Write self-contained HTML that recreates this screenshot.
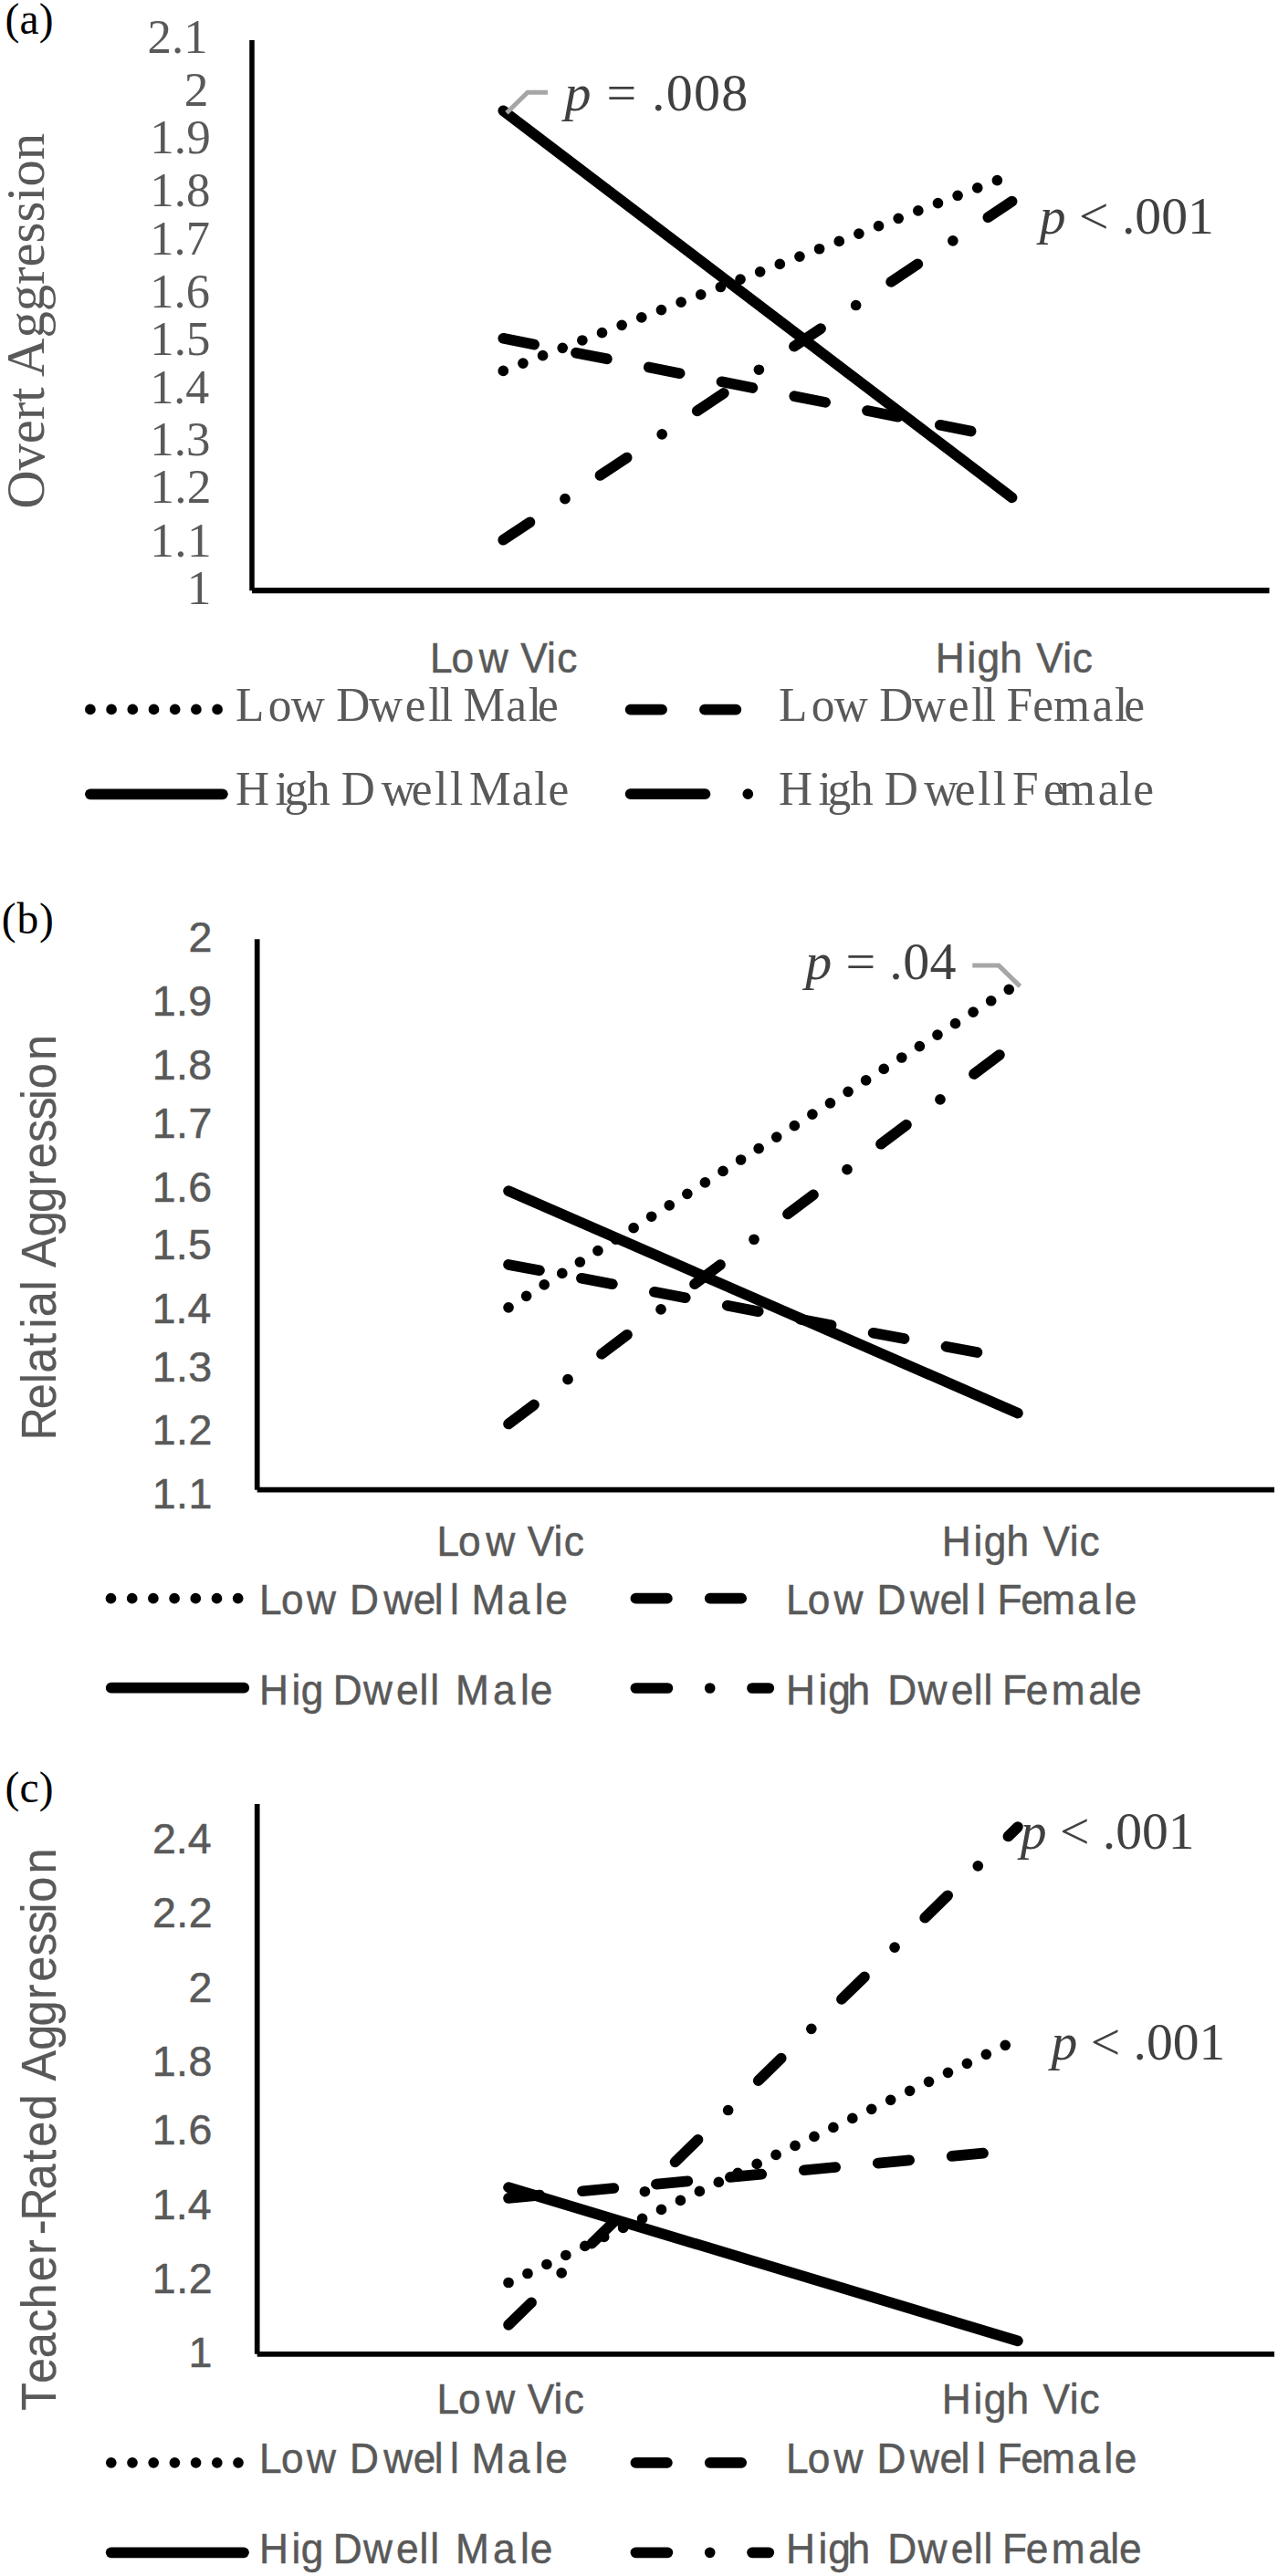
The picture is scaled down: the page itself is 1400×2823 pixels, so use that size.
<!DOCTYPE html>
<html lang="en"><head><meta charset="utf-8"><title>Figure</title>
<style>
html,body{margin:0;padding:0;background:#fff;}
svg{display:block;}
text{white-space:pre;}
</style></head><body>
<svg width="1400" height="2823" viewBox="0 0 1400 2823">
<rect x="0" y="0" width="1400" height="2823" fill="#ffffff"/>
<text transform="translate(7.4,36.9)" x="-2" y="0" font-family="'Liberation Serif', serif" font-size="47.5" fill="#000" letter-spacing="0.250" xml:space="preserve">(a)</text>
<text transform="translate(47.8,555.4) rotate(-90) scale(0.9774,1)" x="-2.5" y="0" font-family="'Liberation Serif', serif" font-size="60" fill="#595959" xml:space="preserve">Overt Aggression</text>
<text transform="translate(163.8,58) scale(0.9878,1)" x="-2.25" y="0" font-family="'Liberation Serif', serif" font-size="53.4" fill="#595959" xml:space="preserve">2.1</text>
<text transform="translate(204,115.5)" x="-2.25" y="0" font-family="'Liberation Serif', serif" font-size="53.4" fill="#595959" xml:space="preserve">2</text>
<text transform="translate(169,168) scale(0.9958,1)" x="-4.75" y="0" font-family="'Liberation Serif', serif" font-size="53.4" fill="#595959" xml:space="preserve">1.9</text>
<text transform="translate(169,225.75) scale(0.9917,1)" x="-4.75" y="0" font-family="'Liberation Serif', serif" font-size="53.4" fill="#595959" xml:space="preserve">1.8</text>
<text transform="translate(169,278.9) scale(0.9835,1)" x="-4.75" y="0" font-family="'Liberation Serif', serif" font-size="53.4" fill="#595959" xml:space="preserve">1.7</text>
<text transform="translate(169,337.4) scale(0.9835,1)" x="-4.75" y="0" font-family="'Liberation Serif', serif" font-size="53.4" fill="#595959" xml:space="preserve">1.6</text>
<text transform="translate(169,389.4) scale(0.9917,1)" x="-4.75" y="0" font-family="'Liberation Serif', serif" font-size="53.4" fill="#595959" xml:space="preserve">1.5</text>
<text transform="translate(169,441.5) scale(0.9714,1)" x="-4.75" y="0" font-family="'Liberation Serif', serif" font-size="53.4" fill="#595959" xml:space="preserve">1.4</text>
<text transform="translate(169,499.3) scale(0.9917,1)" x="-4.75" y="0" font-family="'Liberation Serif', serif" font-size="53.4" fill="#595959" xml:space="preserve">1.3</text>
<text transform="translate(169,551.4)" x="-4.75" y="0" font-family="'Liberation Serif', serif" font-size="53.4" fill="#595959" letter-spacing="0.250" xml:space="preserve">1.2</text>
<text transform="translate(169,609.8)" x="-4.75" y="0" font-family="'Liberation Serif', serif" font-size="53.4" fill="#595959" letter-spacing="0.375" xml:space="preserve">1.1</text>
<text transform="translate(209.5,661.5)" x="-4.75" y="0" font-family="'Liberation Serif', serif" font-size="53.4" fill="#595959" xml:space="preserve">1</text>
<line x1="276" y1="44" x2="276" y2="647.2" stroke="#000" stroke-width="5.5" stroke-linecap="butt"/>
<line x1="276" y1="647.2" x2="1390.5" y2="647.2" stroke="#000" stroke-width="6.3" stroke-linecap="butt"/>
<line x1="551.3" y1="406.4" x2="1108.6" y2="191.3" stroke="#000" stroke-width="11.7" stroke-linecap="round" stroke-dasharray="0 23.2"/>
<line x1="551.3" y1="370.8" x2="1108.6" y2="481.5" stroke="#000" stroke-width="11.7" stroke-linecap="round" stroke-dasharray="34.5 46.8"/>
<line x1="551.3" y1="591.7" x2="1108.6" y2="220.7" stroke="#000" stroke-width="11.7" stroke-linecap="round" stroke-dasharray="35 46.3 0 46.3"/>
<line x1="551.3" y1="121.3" x2="1108.6" y2="545.3" stroke="#000" stroke-width="11.7" stroke-linecap="round"/>
<polyline points="555,123.75 578,101.25 600,101.25" fill="none" stroke="#a6a6a6" stroke-width="5" stroke-linecap="butt" stroke-linejoin="miter"/>
<text transform="translate(615,121.25)" x="3.5" y="0" font-family="'Liberation Serif', serif" font-size="58" fill="#404040" letter-spacing="1.214" xml:space="preserve"><tspan font-style="italic">p</tspan><tspan font-style="normal"> = .008</tspan></text>
<text transform="translate(1135.2,255.5) scale(0.9951,1)" x="3.5" y="0" font-family="'Liberation Serif', serif" font-size="58" fill="#404040" xml:space="preserve"><tspan font-style="italic">p</tspan><tspan font-style="normal"> &lt; .001</tspan></text>
<text transform="translate(0,736.5) scale(0.9500,1)" x="495.71 520.61 552.44 586.09 600.27 630.52 642.28" y="0" font-family="'Liberation Sans', sans-serif" font-size="46.6" fill="#595959" stroke="#595959" stroke-width="0.5" xml:space="preserve">Low Vic</text>
<text transform="translate(0,736.5) scale(0.9500,1)" x="1078.65 1115.36 1126.94 1152.82 1178.74 1194.9 1225.46 1236.49" y="0" font-family="'Liberation Sans', sans-serif" font-size="46.6" fill="#595959" stroke="#595959" stroke-width="0.5" xml:space="preserve">High Vic</text>
<line x1="98.9" y1="777.4" x2="244" y2="777.4" stroke="#000" stroke-width="11.7" stroke-linecap="round" stroke-dasharray="0 23.2"/>
<line x1="98.9" y1="870.3" x2="243.9" y2="870.3" stroke="#000" stroke-width="11.7" stroke-linecap="round"/>
<line x1="690.6" y1="777.6" x2="836" y2="777.6" stroke="#000" stroke-width="11.7" stroke-linecap="round" stroke-dasharray="34.5 46.8"/>
<line x1="690.6" y1="870.2" x2="836" y2="870.2" stroke="#000" stroke-width="11.7" stroke-linecap="round" stroke-dasharray="81.9 46.8 0 46.8"/>
<text transform="translate(0,789.5) scale(0.9600,1)" x="268.77 305.88 332.03 370.67 383.56 420.78 462.29 488.82 501.85 516.71 528.77 577.29 602.89 613.64" y="0" font-family="'Liberation Serif', serif" font-size="53.5" fill="#595959" xml:space="preserve">Low Dwell Male</text>
<text transform="translate(0,881.5) scale(0.9600,1)" x="268.77 314.09 324.58 349.89 376.64 389.29 435.05 469.58 496.12 513.62 528.48 535.33 584.06 609.66 625.62" y="0" font-family="'Liberation Serif', serif" font-size="53.5" fill="#595959" xml:space="preserve">High Dwell Male</text>
<text transform="translate(0,789.5) scale(0.9600,1)" x="888.56 925.67 951.93 990.56 1003.35 1040.57 1082.08 1108.62 1121.74 1136.61 1148.56 1178.33 1202.11 1246.35 1271.85 1282.6" y="0" font-family="'Liberation Serif', serif" font-size="53.5" fill="#595959" xml:space="preserve">Low Dwell Female</text>
<text transform="translate(0,881.5) scale(0.9600,1)" x="888.56 933.88 944.37 969.69 996.44 1009.08 1054.43 1089.37 1115.91 1133.41 1148.27 1155.33 1190.72 1208.36 1252.81 1277.16 1293.01" y="0" font-family="'Liberation Serif', serif" font-size="53.5" fill="#595959" xml:space="preserve">High Dwell Female</text>
<text transform="translate(3.75,1023.2)" x="-2" y="0" font-family="'Liberation Serif', serif" font-size="47.5" fill="#000" letter-spacing="0.825" xml:space="preserve">(b)</text>
<text transform="translate(60.6,0) rotate(-90) scale(0.9500,1)" x="-1661.7 -1625.56 -1596.01 -1583.94 -1552.71 -1532.3 -1519.21 -1488.95 -1477.13 -1462.07 -1426.48 -1398.97 -1367.95 -1347.63 -1317.87 -1292.22 -1268.65 -1256.02 -1223.11" y="0" font-family="'Liberation Sans', sans-serif" font-size="53.2" fill="#595959" stroke="#595959" stroke-width="0.2" xml:space="preserve">Relatial Aggression</text>
<text transform="translate(208.6,1043.4)" x="-2" y="0" font-family="'Liberation Sans', sans-serif" font-size="46.6" fill="#595959" stroke="#595959" stroke-width="0.5" xml:space="preserve">2</text>
<text transform="translate(170,1113.1)" x="-3.25" y="0" font-family="'Liberation Sans', sans-serif" font-size="46.6" fill="#595959" stroke="#595959" stroke-width="0.5" letter-spacing="0.275" xml:space="preserve">1.9</text>
<text transform="translate(170,1182.7)" x="-3.25" y="0" font-family="'Liberation Sans', sans-serif" font-size="46.6" fill="#595959" stroke="#595959" stroke-width="0.5" letter-spacing="0.275" xml:space="preserve">1.8</text>
<text transform="translate(170,1246.9)" x="-3.25" y="0" font-family="'Liberation Sans', sans-serif" font-size="46.6" fill="#595959" stroke="#595959" stroke-width="0.5" letter-spacing="0.400" xml:space="preserve">1.7</text>
<text transform="translate(170,1316.9)" x="-3.25" y="0" font-family="'Liberation Sans', sans-serif" font-size="46.6" fill="#595959" stroke="#595959" stroke-width="0.5" letter-spacing="0.275" xml:space="preserve">1.6</text>
<text transform="translate(170,1380.3)" x="-3.25" y="0" font-family="'Liberation Sans', sans-serif" font-size="46.6" fill="#595959" stroke="#595959" stroke-width="0.5" letter-spacing="0.150" xml:space="preserve">1.5</text>
<text transform="translate(170,1450.1) scale(0.9967,1)" x="-3.25" y="0" font-family="'Liberation Sans', sans-serif" font-size="46.6" fill="#595959" stroke="#595959" stroke-width="0.5" xml:space="preserve">1.4</text>
<text transform="translate(170,1513.5)" x="-3.25" y="0" font-family="'Liberation Sans', sans-serif" font-size="46.6" fill="#595959" stroke="#595959" stroke-width="0.5" letter-spacing="0.275" xml:space="preserve">1.3</text>
<text transform="translate(170,1582.8)" x="-3.25" y="0" font-family="'Liberation Sans', sans-serif" font-size="46.6" fill="#595959" stroke="#595959" stroke-width="0.5" letter-spacing="0.400" xml:space="preserve">1.2</text>
<text transform="translate(170,1652.5)" x="-3.25" y="0" font-family="'Liberation Sans', sans-serif" font-size="46.6" fill="#595959" stroke="#595959" stroke-width="0.5" letter-spacing="0.400" xml:space="preserve">1.1</text>
<line x1="281.7" y1="1029.3" x2="281.7" y2="1632.7" stroke="#000" stroke-width="5.7" stroke-linecap="butt"/>
<line x1="281.7" y1="1632.7" x2="1396" y2="1632.7" stroke="#000" stroke-width="5.7" stroke-linecap="butt"/>
<line x1="557.05" y1="1432.8" x2="1114.9" y2="1078.2" stroke="#000" stroke-width="11.7" stroke-linecap="round" stroke-dasharray="0 23.2"/>
<line x1="557.05" y1="1385.9" x2="1114.9" y2="1490.4" stroke="#000" stroke-width="11.7" stroke-linecap="round" stroke-dasharray="34.5 46.8"/>
<line x1="557.05" y1="1560.5" x2="1114.9" y2="1141" stroke="#000" stroke-width="11.7" stroke-linecap="round" stroke-dasharray="35 46.3 0 46.3"/>
<line x1="557.05" y1="1305.1" x2="1114.9" y2="1548.6" stroke="#000" stroke-width="11.7" stroke-linecap="round"/>
<polyline points="1065.3,1058.1 1094.1,1058.1 1117.4,1080.9" fill="none" stroke="#a6a6a6" stroke-width="5" stroke-linecap="butt" stroke-linejoin="miter"/>
<text transform="translate(878.8,1073.1)" x="3.5" y="0" font-family="'Liberation Serif', serif" font-size="58" fill="#404040" letter-spacing="0.325" xml:space="preserve"><tspan font-style="italic">p</tspan><tspan font-style="normal"> = .04</tspan></text>
<text transform="translate(0,1704.7) scale(0.9500,1)" x="503.61 528.51 560.33 593.98 608.16 638.41 650.18" y="0" font-family="'Liberation Sans', sans-serif" font-size="46.6" fill="#595959" stroke="#595959" stroke-width="0.5" xml:space="preserve">Low Vic</text>
<text transform="translate(0,1704.7) scale(0.9500,1)" x="1086.02 1122.72 1134.41 1160.51 1186.42 1202.69 1233.36 1244.7" y="0" font-family="'Liberation Sans', sans-serif" font-size="46.6" fill="#595959" stroke="#595959" stroke-width="0.5" xml:space="preserve">High Vic</text>
<line x1="121.5" y1="1751.7" x2="267" y2="1751.7" stroke="#000" stroke-width="11.7" stroke-linecap="round" stroke-dasharray="0 23.2"/>
<line x1="121.7" y1="1849.7" x2="267.3" y2="1849.7" stroke="#000" stroke-width="11.7" stroke-linecap="round"/>
<line x1="696.4" y1="1751.7" x2="842" y2="1751.7" stroke="#000" stroke-width="11.7" stroke-linecap="round" stroke-dasharray="34.5 46.8"/>
<line x1="696.4" y1="1850" x2="842.3" y2="1850" stroke="#000" stroke-width="11.7" stroke-linecap="round" stroke-dasharray="35 46.3 0 46.3"/>
<text transform="translate(0,1768.8) scale(0.9500,1)" x="299.07 324.1 353.59 387.25 403.18 442.33 476.6 500.81 519.02 529.37 543.7 585.02 616.7 628.6" y="0" font-family="'Liberation Sans', sans-serif" font-size="46.6" fill="#595959" stroke="#595959" stroke-width="0.5" xml:space="preserve">Low Dwell Male</text>
<text transform="translate(0,1867.8) scale(0.9500,1)" x="299.07 336.2 347.04 372.96 383.91 418.96 456.92 483.75 496.07 506.42 506.42 525.18 568.39 599.97 611.44" y="0" font-family="'Liberation Sans', sans-serif" font-size="46.6" fill="#595959" stroke="#595959" stroke-width="0.5" xml:space="preserve">Hig Dwell  Male</text>
<text transform="translate(0,1768.7) scale(0.9500,1)" x="906.4 931.3 961.49 995.14 1011.07 1049.38 1083.66 1107.97 1126.39 1136.74 1149.91 1177.02 1200.96 1242.49 1273.23 1285.02" y="0" font-family="'Liberation Sans', sans-serif" font-size="46.6" fill="#595959" stroke="#595959" stroke-width="0.5" xml:space="preserve">Low Dwell Female</text>
<text transform="translate(0,1867.7) scale(0.9500,1)" x="906.44 943.78 954.94 977.45 1003.37 1023.49 1058.44 1096.49 1123.02 1134.28 1144.63 1155.7 1182.81 1212.43 1254.97 1280.23 1290.6" y="0" font-family="'Liberation Sans', sans-serif" font-size="46.6" fill="#595959" stroke="#595959" stroke-width="0.5" xml:space="preserve">High Dwell Female</text>
<text transform="translate(7.4,1974.5)" x="-2" y="0" font-family="'Liberation Serif', serif" font-size="47.5" fill="#000" letter-spacing="0.250" xml:space="preserve">(c)</text>
<text transform="translate(60.6,0) rotate(-90) scale(0.9500,1)" x="-2781.04 -2749.57 -2720.15 -2690.15 -2663.58 -2631.84 -2601.01 -2578.05 -2561.89 -2525.75 -2494.52 -2476.47 -2445.92 -2416.33 -2400.6 -2365 -2337.5 -2306.59 -2286.05 -2256.39 -2230.74 -2207.17 -2194.44 -2161.53" y="0" font-family="'Liberation Sans', sans-serif" font-size="53.2" fill="#595959" stroke="#595959" stroke-width="0.2" xml:space="preserve">Teacher-Rated Aggression</text>
<text transform="translate(168.9,2031.1) scale(0.9992,1)" x="-2" y="0" font-family="'Liberation Sans', sans-serif" font-size="46.6" fill="#595959" stroke="#595959" stroke-width="0.5" xml:space="preserve">2.4</text>
<text transform="translate(168.9,2112.4)" x="-2" y="0" font-family="'Liberation Sans', sans-serif" font-size="46.6" fill="#595959" stroke="#595959" stroke-width="0.5" letter-spacing="0.475" xml:space="preserve">2.2</text>
<text transform="translate(208.6,2193.8)" x="-2" y="0" font-family="'Liberation Sans', sans-serif" font-size="46.6" fill="#595959" stroke="#595959" stroke-width="0.5" xml:space="preserve">2</text>
<text transform="translate(170,2275.1)" x="-3.25" y="0" font-family="'Liberation Sans', sans-serif" font-size="46.6" fill="#595959" stroke="#595959" stroke-width="0.5" letter-spacing="0.425" xml:space="preserve">1.8</text>
<text transform="translate(170,2350.4)" x="-3.25" y="0" font-family="'Liberation Sans', sans-serif" font-size="46.6" fill="#595959" stroke="#595959" stroke-width="0.5" letter-spacing="0.425" xml:space="preserve">1.6</text>
<text transform="translate(170,2431.7)" x="-3.25" y="0" font-family="'Liberation Sans', sans-serif" font-size="46.6" fill="#595959" stroke="#595959" stroke-width="0.5" letter-spacing="0.050" xml:space="preserve">1.4</text>
<text transform="translate(170,2512.7)" x="-3.25" y="0" font-family="'Liberation Sans', sans-serif" font-size="46.6" fill="#595959" stroke="#595959" stroke-width="0.5" letter-spacing="0.550" xml:space="preserve">1.2</text>
<text transform="translate(209.7,2593.9)" x="-3.25" y="0" font-family="'Liberation Sans', sans-serif" font-size="46.6" fill="#595959" stroke="#595959" stroke-width="0.5" xml:space="preserve">1</text>
<line x1="281.7" y1="1976.9" x2="281.7" y2="2579.8" stroke="#000" stroke-width="5.7" stroke-linecap="butt"/>
<line x1="281.7" y1="2579.8" x2="1396" y2="2579.8" stroke="#000" stroke-width="5.7" stroke-linecap="butt"/>
<line x1="557.05" y1="2501.5" x2="1114.9" y2="2234.8" stroke="#000" stroke-width="11.7" stroke-linecap="round" stroke-dasharray="0 23.2"/>
<line x1="557.05" y1="2408.9" x2="1114.9" y2="2356.1" stroke="#000" stroke-width="11.7" stroke-linecap="round" stroke-dasharray="34.5 46.8"/>
<line x1="557.05" y1="2547.8" x2="1114.9" y2="2002.2" stroke="#000" stroke-width="11.7" stroke-linecap="round" stroke-dasharray="35 46.3 0 46.3"/>
<line x1="557.05" y1="2397.1" x2="1114.9" y2="2565.4" stroke="#000" stroke-width="11.7" stroke-linecap="round"/>
<text transform="translate(1114.2,2025.7) scale(0.9935,1)" x="3.5" y="0" font-family="'Liberation Serif', serif" font-size="58" fill="#404040" xml:space="preserve"><tspan font-style="italic">p</tspan><tspan font-style="normal"> &lt; .001</tspan></text>
<text transform="translate(1148,2257.3) scale(0.9935,1)" x="3.5" y="0" font-family="'Liberation Serif', serif" font-size="58" fill="#404040" xml:space="preserve"><tspan font-style="italic">p</tspan><tspan font-style="normal"> &lt; .001</tspan></text>
<text transform="translate(0,2645.4) scale(0.9500,1)" x="503.61 528.51 560.33 593.98 608.16 638.41 650.18" y="0" font-family="'Liberation Sans', sans-serif" font-size="46.6" fill="#595959" stroke="#595959" stroke-width="0.5" xml:space="preserve">Low Vic</text>
<text transform="translate(0,2645.4) scale(0.9500,1)" x="1086.02 1122.72 1134.41 1160.51 1186.42 1202.69 1233.36 1244.7" y="0" font-family="'Liberation Sans', sans-serif" font-size="46.6" fill="#595959" stroke="#595959" stroke-width="0.5" xml:space="preserve">High Vic</text>
<line x1="121.8" y1="2698.8" x2="267" y2="2698.8" stroke="#000" stroke-width="11.7" stroke-linecap="round" stroke-dasharray="0 23.2"/>
<line x1="121.7" y1="2797.3" x2="267" y2="2797.3" stroke="#000" stroke-width="11.7" stroke-linecap="round"/>
<line x1="696.4" y1="2698.8" x2="842" y2="2698.8" stroke="#000" stroke-width="11.7" stroke-linecap="round" stroke-dasharray="34.5 46.8"/>
<line x1="696.4" y1="2797.3" x2="842.3" y2="2797.3" stroke="#000" stroke-width="11.7" stroke-linecap="round" stroke-dasharray="35 46.3 0 46.3"/>
<text transform="translate(0,2710.1) scale(0.9500,1)" x="299.07 324.1 353.59 387.25 403.18 442.33 476.6 500.81 519.02 529.37 543.7 585.02 616.7 628.6" y="0" font-family="'Liberation Sans', sans-serif" font-size="46.6" fill="#595959" stroke="#595959" stroke-width="0.5" xml:space="preserve">Low Dwell Male</text>
<text transform="translate(0,2809) scale(0.9500,1)" x="299.07 336.2 347.04 372.96 383.91 418.96 456.92 483.75 496.07 506.42 506.42 525.18 568.39 599.97 611.44" y="0" font-family="'Liberation Sans', sans-serif" font-size="46.6" fill="#595959" stroke="#595959" stroke-width="0.5" xml:space="preserve">Hig Dwell  Male</text>
<text transform="translate(0,2710.2) scale(0.9500,1)" x="906.4 931.3 961.49 995.14 1011.07 1049.38 1083.66 1107.97 1126.39 1136.74 1149.91 1177.02 1200.96 1242.49 1273.23 1285.02" y="0" font-family="'Liberation Sans', sans-serif" font-size="46.6" fill="#595959" stroke="#595959" stroke-width="0.5" xml:space="preserve">Low Dwell Female</text>
<text transform="translate(0,2808.9) scale(0.9500,1)" x="906.44 943.78 954.94 977.45 1003.37 1023.49 1058.44 1096.49 1123.02 1134.28 1144.63 1155.7 1182.81 1212.43 1254.97 1280.23 1290.6" y="0" font-family="'Liberation Sans', sans-serif" font-size="46.6" fill="#595959" stroke="#595959" stroke-width="0.5" xml:space="preserve">High Dwell Female</text>
</svg>
</body></html>
